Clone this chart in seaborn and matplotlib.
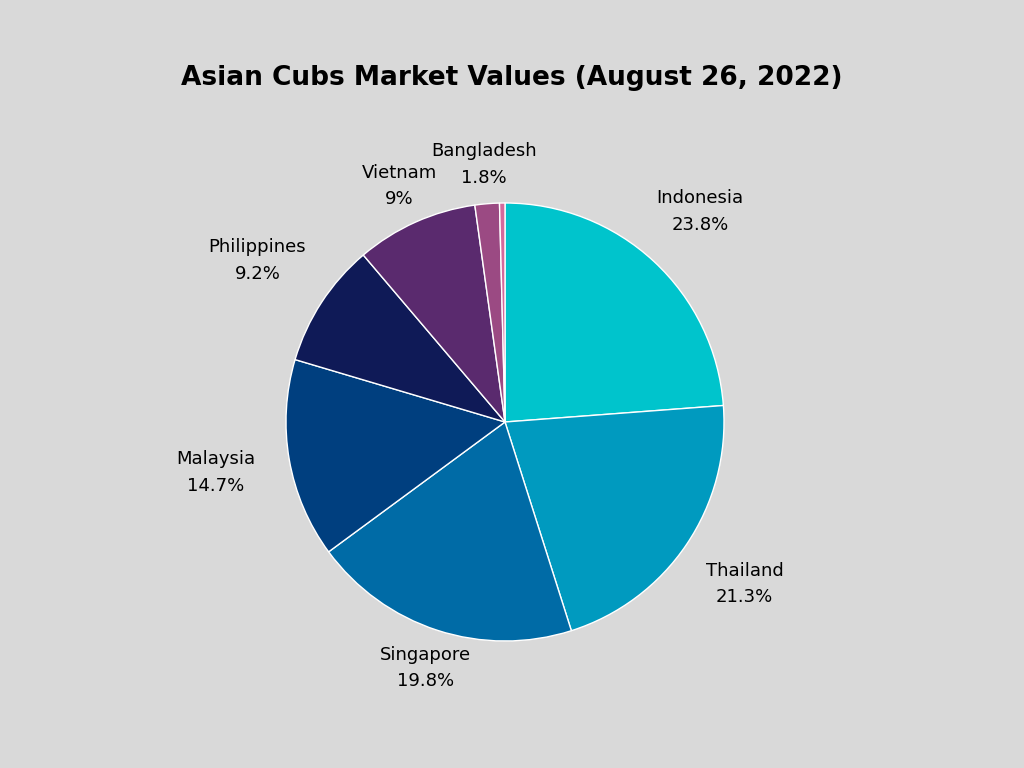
import numpy as np
import matplotlib
matplotlib.use("Agg")
import matplotlib.pyplot as plt
import seaborn as sns

countries = ["Indonesia", "Thailand", "Singapore", "Malaysia", "Philippines", "Vietnam", "Bangladesh", ""]
shares = [23.8, 21.3, 19.8, 14.7, 9.2, 9.0, 1.8, 0.4]
share_labels = ["23.8%", "21.3%", "19.8%", "14.7%", "9.2%", "9%", "1.8%", ""]
colors = ["#00C4CC", "#009ABF", "#006BA6", "#003F7F", "#0F1A57", "#5A2A6E", "#9B4A83", "#D46A9C"]
label_dist = [1.31, 1.32, 1.18, 1.34, 1.35, 1.18, 1.18, 1.2]

sns.set_theme(style="white")
bg = "#D9D9D9"
fig = plt.figure(figsize=(10.24, 7.68), dpi=100, facecolor=bg)
r = 219
ax = fig.add_axes([(505 - r * 1.5) / 1024, (346 - r * 1.5) / 768, 3 * r / 1024, 3 * r / 768])
ax.set_facecolor(bg)
wedges, _ = ax.pie(shares, colors=colors, startangle=90, counterclock=False, radius=1)
ax.set_xlim(-1.5, 1.5)
ax.set_ylim(-1.5, 1.5)
ax.axis("off")

cum = np.cumsum([0] + shares[:-1])
total = sum(shares)
for name, pct, c, s, d in zip(countries, share_labels, cum, shares, label_dist):
    if not name:
        continue
    ang = np.deg2rad(90 - 360 * (c + s / 2) / total)
    ax.text(d * np.cos(ang), d * np.sin(ang), f"{name}\n{pct}", ha="center", va="center",
            fontsize=13, color="black", linespacing=1.6)

fig.text(0.5, 0.898, "Asian Cubs Market Values (August 26, 2022)", ha="center", va="center",
         fontsize=19, fontweight="heavy", color="black")
fig.savefig("out.png", dpi=100, facecolor=bg)
